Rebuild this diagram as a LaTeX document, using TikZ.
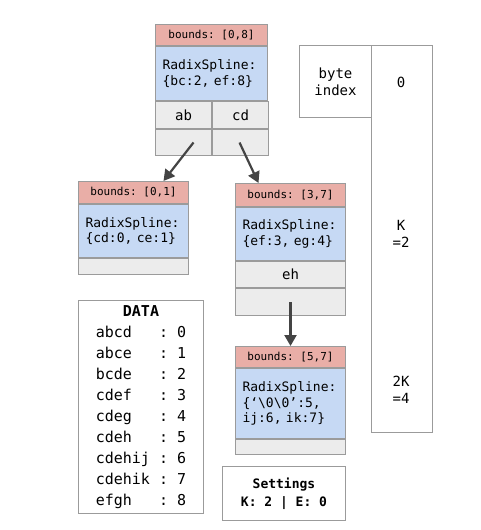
\documentclass[tikz,border=0pt]{standalone}
\usepackage{fontspec}
\setmonofont{DejaVu Sans Mono}
\usetikzlibrary{positioning}
\usetikzlibrary{calc}
\usetikzlibrary{arrows.meta}
\definecolor{boundsred}{RGB}{233,174,167}
\definecolor{splineblue}{RGB}{198,217,244}
\definecolor{slotgrey}{RGB}{236,236,236}
\definecolor{linegrey}{RGB}{155,155,155}
\definecolor{arrowgrey}{RGB}{68,68,68}
\tikzset{
    cell/.style = {rectangle,draw=linegrey,line width=1pt,inner sep=0pt,font=\ttfamily},
    bounds/.style = {cell,fill=boundsred,minimum width=110pt,font=\ttfamily\fontsize{11}{13}\selectfont},
    spline/.style = {cell,fill=splineblue,text width=96pt,inner xsep=7pt,align=left,font=\ttfamily\fontsize{13}{15.5}\selectfont},
    slot/.style = {cell,fill=slotgrey,font=\ttfamily\fontsize{14}{16}\selectfont},
    plainbox/.style = {rectangle,draw=linegrey,line width=1pt,inner sep=0pt,fill=white},
    index/.style = {align=center,inner sep=0pt,font=\ttfamily\fontsize{14}{17}\selectfont},
    pointer/.style = {draw=arrowgrey,line width=2.2pt,-{Triangle[length=11pt,width=12pt]}}}

\begin{document}
\begin{tikzpicture}[x=1pt,y=-1pt]
        \useasboundingbox (0,0) rectangle (481,530);
        % root node
        \node[bounds,minimum width=112pt,minimum height=21pt,anchor=north west] (rootb) at (155,24) {bounds: [0,8]};
        \node[spline,text width=98pt,minimum height=54pt,below=0pt of rootb] (roots) {RadixSpline:\\\{bc:2, ef:8\}};
        \node[slot,minimum width=56pt,minimum height=27pt,anchor=north west] (ab) at (roots.south west) {ab};
        \node[slot,minimum width=56pt,minimum height=27pt,right=0pt of ab] (cd) {cd};
        \node[slot,minimum width=56pt,minimum height=26pt,below=0pt of ab] (abl) {};
        \node[slot,minimum width=56pt,minimum height=26pt,below=0pt of cd] (cdl) {};
        % children
        \node[bounds,minimum height=22pt,anchor=north west] (lowb) at (78,181) {bounds: [0,1]};
        \node[spline,minimum height=53pt,below=0pt of lowb] (lows) {RadixSpline:\\\{cd:0, ce:1\}};
        \node[slot,minimum width=110pt,minimum height=16pt,below=0pt of lows] (lowc) {};
        \node[bounds,minimum height=23pt,anchor=north west] (midb) at (235,183) {bounds: [3,7]};
        \node[spline,minimum height=53pt,below=0pt of midb] (mids) {RadixSpline:\\\{ef:3, eg:4\}};
        \node[slot,minimum width=110pt,minimum height=26pt,below=0pt of mids] (eh) {eh};
        \node[slot,minimum width=110pt,minimum height=27pt,below=0pt of eh] (ehl) {};
        \node[bounds,minimum height=21pt,anchor=north west] (leafb) at (235,346) {bounds: [5,7]};
        \node[spline,minimum height=70pt,below=0pt of leafb] (leafs) {RadixSpline:\\\{‘\textbackslash 0\textbackslash 0’:5,\\ij:6, ik:7\}};
        \node[slot,minimum width=110pt,minimum height=15pt,below=0pt of leafs] (leafc) {};
        \draw[pointer] ($(abl.center)+(10,0)$) -- ($(lowb.north)+(30,0)$);
        \draw[pointer] ($(cdl.center)+(-1,0)$) -- ($(midb.north)+(-32,0)$);
        \draw[pointer] (ehl.center) -- (leafb.north);
        % data and settings
        \node[plainbox,minimum width=125pt,minimum height=213pt,anchor=north west,font=\ttfamily\fontsize{15}{21}\selectfont] (data) at (78,300) {%
            \begin{tabular}{@{}l@{ }l@{ }l@{}}
            \multicolumn{3}{c}{\textbf{DATA}}\\
            abcd & : & 0\\ abce & : & 1\\ bcde & : & 2\\
            cdef & : & 3\\ cdeg & : & 4\\ cdeh & : & 5\\
            cdehij & : & 6\\ cdehik & : & 7\\ efgh & : & 8
            \end{tabular}};
        \node[plainbox,minimum width=123pt,minimum height=54pt,anchor=north west,align=center,font=\ttfamily\bfseries\fontsize{13}{18}\selectfont] (settings) at (222,466) {Settings\\K: 2 | E: 0};
        % byte index column
        \node[plainbox,minimum width=72pt,minimum height=72pt,anchor=north west,align=center,font=\ttfamily\fontsize{14}{17}\selectfont] (byte) at (299,45) {byte\\index};
        \node[plainbox,minimum width=61pt,minimum height=387pt,anchor=north west] (column) at (371,45) {};
        \node[index] (idx0) at (401,82) {0};
        \node[index] (idxK) at (401,234) {K\\=2};
        \node[index] (idx2K) at (401,390) {2K\\=4};
\end{tikzpicture}
\end{document}
